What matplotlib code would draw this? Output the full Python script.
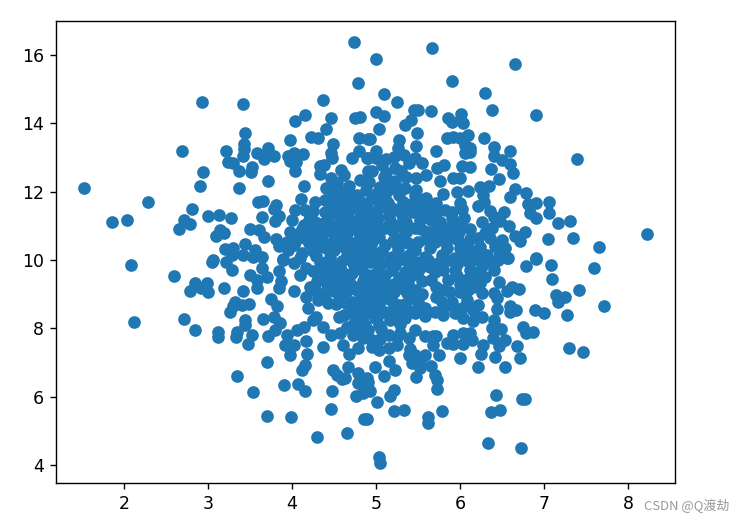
import matplotlib
matplotlib.use("Agg")
import matplotlib.pyplot as plt

# points, one list per quadrant of the cloud
upper_left = [
    (4.74, 16.38), (4.79, 15.18), (4.37, 14.68), (2.93, 14.62), (3.42, 14.56), (4.15, 14.25), (4.03, 14.06),
    (4.46, 14.15), (4.75, 14.15), (4.81, 14.19), (4.41, 13.84), (4.23, 13.61), (4.31, 13.58), (3.44, 13.71),
    (3.98, 13.51), (4.80, 13.56), (4.91, 13.55), (3.43, 13.39), (4.49, 13.40), (2.69, 13.18), (3.21, 13.18),
    (3.43, 13.25), (3.42, 13.04), (3.58, 13.14), (3.71, 13.29), (3.67, 12.96), (3.78, 13.06), (3.72, 13.13),
    (4.46, 13.13), (4.48, 13.00), (4.80, 13.18), (4.72, 12.98), (4.89, 12.98), (3.95, 13.06), (4.02, 13.13),
    (4.13, 13.10), (3.98, 12.90), (4.05, 12.88), (4.04, 12.61), (3.24, 12.86), (3.30, 12.83), (3.37, 12.61),
    (3.52, 12.72), (3.51, 12.57), (2.94, 12.57), (2.90, 12.16), (3.71, 12.32), (3.37, 12.10), (4.14, 12.16),
    (1.52, 12.10), (2.29, 11.69), (1.86, 11.10), (2.03, 11.16), (2.81, 11.50), (2.71, 11.18), (2.78, 11.05),
    (2.66, 10.90), (3.00, 11.28), (3.13, 11.31), (3.27, 11.22), (3.60, 11.69), (3.65, 11.73), (3.64, 11.26),
    (3.81, 11.60), (3.79, 11.49), (3.84, 11.30), (3.80, 11.15), (3.50, 10.90), (3.61, 10.88), (3.67, 10.67),
    (3.81, 10.61), (3.10, 10.70), (3.14, 10.88), (3.19, 10.80), (3.20, 10.32), (3.30, 10.36), (3.44, 10.47),
    (3.56, 10.30), (3.64, 10.10), (3.06, 10.00), (3.28, 10.15), (3.42, 10.15), (3.54, 10.10), (3.89, 10.02),
    (4.11, 11.79), (4.27, 11.69), (4.04, 11.47), (4.15, 11.47), (4.21, 11.30), (4.27, 11.12), (4.26, 10.98),
    (4.00, 11.17), (4.14, 11.03), (3.98, 10.83), (4.10, 10.78), (3.94, 10.54), (4.02, 10.44), (4.15, 10.64),
    (4.31, 10.59), (4.33, 12.74), (4.38, 12.78), (4.33, 12.52), (4.40, 12.12), (4.47, 12.39), (4.53, 12.25),
    (4.58, 12.64), (4.62, 12.49), (4.68, 12.16), (4.81, 12.33), (4.91, 12.62), (4.49, 11.95), (4.39, 11.76),
    (4.65, 11.91), (4.77, 11.91), (4.78, 11.81), (4.71, 11.66), (4.49, 11.61), (4.39, 11.42), (4.57, 11.52),
    (4.65, 11.32), (4.51, 11.03), (4.63, 11.08), (4.81, 11.42), (4.91, 11.22), (4.81, 11.03), (4.49, 10.78),
    (4.65, 10.83), (4.81, 10.73), (4.93, 10.83), (4.41, 10.34), (4.57, 10.54), (4.69, 10.34), (4.85, 10.44),
    (4.25, 10.25), (4.45, 10.10), (4.65, 10.15), (4.85, 10.10),
]
upper_right = [
    (5.67, 16.20), (5.00, 15.88), (6.66, 15.73), (5.91, 15.23), (5.10, 14.85), (6.30, 14.88), (5.25, 14.62),
    (6.38, 14.39), (6.90, 14.24), (5.00, 14.33), (5.10, 14.22), (5.45, 14.39), (5.50, 14.39), (5.65, 14.36),
    (5.86, 14.15), (6.01, 14.29), (5.90, 14.05), (6.03, 14.02), (5.42, 14.10), (5.34, 13.95), (5.04, 13.83),
    (5.49, 13.71), (4.93, 13.54), (5.27, 13.52), (5.84, 13.57), (5.92, 13.61), (6.00, 13.57), (6.10, 13.66),
    (6.29, 13.57), (5.48, 13.34), (6.40, 13.31), (5.72, 13.18), (6.59, 13.18), (6.06, 13.37), (6.12, 13.29),
    (6.06, 13.13), (6.12, 13.16), (6.40, 13.06), (6.50, 12.93), (6.60, 12.80), (6.63, 12.54), (6.37, 12.66),
    (6.47, 12.36), (7.39, 12.95), (5.26, 13.27), (5.00, 13.19), (4.91, 12.98), (5.00, 12.98), (5.21, 13.03),
    (5.33, 13.08), (5.39, 12.83), (5.46, 12.98), (5.55, 12.85), (5.07, 12.78), (4.95, 12.62), (5.23, 12.69),
    (5.73, 12.69), (5.81, 12.78), (6.02, 12.76), (6.12, 12.72), (5.92, 12.41), (6.00, 12.39), (5.76, 12.30),
    (5.48, 12.41), (5.60, 12.49), (5.09, 12.42), (5.23, 12.30), (5.05, 12.15), (5.35, 12.10), (5.48, 12.05),
    (6.24, 12.13), (6.34, 12.17), (6.27, 11.91), (6.66, 12.07), (6.60, 11.84), (6.79, 11.95), (6.09, 12.02),
    (5.96, 12.00), (5.80, 11.93), (5.60, 11.81), (6.81, 11.64), (6.91, 11.66), (7.06, 11.69), (7.06, 11.37),
    (6.83, 11.37), (6.90, 11.22), (7.17, 11.08), (7.31, 11.13), (6.22, 11.58), (6.28, 11.71), (6.00, 11.66),
    (6.02, 11.49), (6.36, 11.44), (6.52, 11.41), (6.40, 11.27), (6.48, 11.13), (6.58, 11.00), (6.26, 11.10),
    (6.38, 10.93), (5.90, 11.22), (5.82, 11.47), (5.68, 11.52), (5.58, 11.47), (5.66, 11.17), (6.77, 10.82),
    (6.65, 10.69), (6.71, 10.57), (7.05, 10.61), (7.35, 10.64), (7.66, 10.37), (8.23, 10.75), (5.99, 10.83),
    (6.22, 10.64), (6.24, 10.39), (6.42, 10.42), (6.54, 10.34), (6.08, 10.44), (6.56, 10.05), (6.90, 10.05),
    (6.46, 10.10), (6.32, 10.15), (4.95, 11.81), (5.11, 11.81), (5.27, 11.91), (5.46, 11.91), (4.99, 11.42),
    (5.15, 11.32), (5.31, 11.32), (5.44, 11.42), (5.60, 11.27), (4.93, 11.03), (5.11, 10.93), (5.27, 11.03),
    (5.46, 10.93), (5.62, 10.83), (5.78, 10.88), (5.88, 10.64), (4.95, 10.54), (5.11, 10.44), (5.31, 10.64),
    (5.50, 10.54), (5.70, 10.54), (6.00, 10.34), (4.99, 10.10), (5.19, 10.10), (5.39, 10.15), (5.58, 10.10),
    (5.78, 10.15), (5.94, 10.05), (6.14, 10.25),
]
lower_left = [
    (2.08, 9.85), (2.59, 9.52), (2.12, 8.18), (2.71, 8.27), (2.84, 7.94), (2.84, 9.32), (2.79, 9.09),
    (2.99, 9.32), (3.00, 9.05), (2.92, 9.17), (3.19, 9.17), (3.05, 9.93), (3.21, 9.93), (3.29, 9.70),
    (3.42, 9.09), (3.32, 8.78), (3.26, 8.49), (3.30, 8.64), (3.40, 8.69), (3.49, 8.70), (3.12, 7.88),
    (3.12, 7.74), (3.34, 7.88), (3.33, 7.74), (3.44, 8.25), (3.44, 8.10), (3.52, 7.81), (3.48, 7.53),
    (3.50, 9.56), (3.58, 9.42), (3.64, 9.76), (3.70, 9.51), (3.58, 9.17), (3.85, 9.69), (3.87, 9.39),
    (3.84, 9.17), (4.02, 9.09), (3.89, 10.00), (3.75, 8.86), (3.82, 8.64), (3.66, 8.27), (3.78, 8.34),
    (3.86, 8.15), (3.80, 7.95), (3.72, 7.78), (3.94, 7.81), (3.92, 7.51), (4.02, 7.51), (3.98, 7.22),
    (4.06, 7.95), (4.14, 8.05), (4.17, 7.63), (4.18, 7.24), (4.37, 7.45), (3.70, 7.00), (3.35, 6.59),
    (3.53, 6.13), (3.90, 6.33), (4.07, 6.38), (4.15, 6.16), (4.15, 6.93), (4.12, 6.77), (3.70, 5.42),
    (3.99, 5.40), (4.30, 4.81), (4.65, 4.93), (4.47, 5.63), (4.48, 6.16), (4.86, 5.34), (4.76, 6.01),
    (4.49, 6.78), (4.53, 6.64), (4.59, 6.51), (4.63, 6.54), (4.67, 6.86), (4.79, 6.68), (4.78, 6.39),
    (4.89, 6.54), (4.91, 6.25), (4.85, 6.10), (4.56, 8.32), (4.29, 8.34), (4.19, 8.59), (4.37, 8.05),
    (4.57, 7.86), (4.47, 7.81), (4.61, 7.51), (4.68, 7.24), (4.79, 7.42), (4.73, 7.81), (4.85, 7.71),
    (4.75, 8.20), (4.87, 8.10), (4.93, 8.49), (4.25, 8.25), (4.17, 8.93), (4.21, 9.22), (4.31, 8.83),
    (4.43, 8.73), (4.10, 9.56), (4.02, 9.90), (4.17, 9.76), (4.33, 9.95), (4.41, 9.56), (4.53, 9.86),
    (4.65, 9.56), (4.81, 9.76), (4.49, 9.17), (4.61, 9.27), (4.75, 9.22), (4.57, 8.88), (4.71, 8.78),
    (4.85, 8.88), (4.89, 9.37), (4.81, 8.54),
]
lower_right = [
    (7.59, 9.76), (7.08, 9.85), (6.91, 10.03), (6.79, 9.82), (7.09, 9.44), (7.42, 9.12), (7.72, 8.65),
    (7.14, 8.98), (7.17, 8.78), (7.25, 8.91), (7.28, 8.38), (6.89, 8.54), (7.00, 8.45), (7.30, 7.41),
    (7.47, 7.30), (6.75, 8.05), (6.79, 7.86), (6.87, 7.90), (6.68, 7.48), (6.72, 7.12), (6.53, 6.88),
    (6.21, 6.88), (6.00, 7.12), (6.42, 7.17), (6.25, 7.25), (6.27, 7.51), (6.46, 7.47), (6.54, 7.66),
    (6.39, 7.71), (6.49, 7.98), (6.38, 8.00), (6.40, 8.25), (6.44, 8.56), (6.44, 8.88), (6.60, 8.64),
    (6.60, 8.49), (6.67, 8.54), (6.70, 9.14), (6.62, 9.22), (6.56, 9.09), (6.46, 9.35), (6.30, 9.51),
    (6.24, 9.54), (6.18, 9.47), (6.24, 9.32), (6.45, 10.00), (6.57, 10.05), (6.22, 10.03), (6.43, 6.04),
    (6.74, 5.92), (6.78, 5.92), (6.37, 5.54), (6.48, 5.60), (6.33, 4.63), (6.73, 4.50), (5.79, 5.57),
    (5.62, 5.40), (5.62, 5.22), (5.33, 5.61), (5.22, 5.58), (5.01, 5.83), (5.21, 6.20), (5.17, 6.03),
    (4.89, 5.34), (5.03, 4.24), (5.05, 4.07), (5.73, 6.22), (5.73, 6.49), (5.70, 6.62), (5.48, 6.57),
    (4.93, 6.15), (4.91, 6.44), (5.23, 6.77), (5.10, 6.59), (4.99, 6.88), (5.15, 7.05), (5.39, 7.22),
    (5.46, 7.22), (5.58, 7.22), (5.75, 7.22), (5.43, 6.98), (5.52, 6.83), (5.65, 6.91), (5.52, 7.03),
    (5.58, 7.78), (5.68, 7.78), (5.72, 7.78), (5.68, 7.51), (5.84, 7.56), (5.92, 7.81), (6.04, 7.86),
    (6.14, 7.66), (6.04, 7.53), (5.92, 7.53), (6.12, 7.86), (5.03, 7.37), (5.15, 7.42), (5.25, 7.51),
    (5.39, 7.71), (5.46, 7.95), (5.29, 7.86), (5.15, 7.81), (4.95, 7.66), (4.91, 7.95), (4.99, 8.29),
    (5.17, 8.25), (5.35, 8.29), (5.46, 8.44), (5.58, 8.59), (5.70, 8.49), (5.82, 8.64), (5.94, 8.44),
    (6.04, 8.29), (6.16, 8.20), (6.16, 8.54), (6.26, 8.34), (6.22, 8.68), (6.02, 8.59), (5.72, 8.93),
    (5.72, 9.20), (5.88, 9.07), (5.86, 9.42), (6.06, 9.42), (6.10, 9.12), (6.26, 9.03), (6.40, 9.03),
    (5.90, 8.78), (5.78, 8.78), (4.95, 8.98), (5.11, 8.88), (5.27, 8.68), (5.43, 8.88), (5.46, 9.12),
    (5.31, 9.17), (5.15, 9.17), (4.99, 9.27), (4.95, 9.56), (5.11, 9.56), (5.27, 9.47), (5.43, 9.56),
    (5.54, 9.81), (5.70, 9.66), (5.39, 9.86), (5.23, 9.86), (5.07, 9.90), (4.93, 9.95), (5.62, 10.00),
    (5.86, 10.00), (6.06, 10.00), (4.95, 8.59), (5.11, 8.49), (5.29, 8.39),
]
# middle of the cloud, where the dots merge and can only be estimated
center = [
    (4.62, 11.72), (4.85, 11.68), (5.02, 11.74), (5.14, 11.66), (5.32, 11.70), (5.42, 11.63), (5.55, 11.68),
    (5.72, 11.66), (4.52, 11.38), (4.68, 11.46), (4.90, 11.50), (5.06, 11.55), (5.22, 11.50), (5.36, 11.48),
    (5.52, 11.42), (5.72, 11.38), (5.90, 11.40), (4.42, 11.18), (4.58, 11.22), (4.74, 11.14), (4.88, 11.20),
    (5.02, 11.22), (5.17, 11.15), (5.36, 11.12), (5.52, 11.18), (5.66, 11.30), (5.76, 11.12), (5.94, 11.05),
    (6.05, 11.22), (4.33, 10.82), (4.42, 10.92), (4.57, 10.88), (4.72, 10.92), (4.87, 10.85), (5.02, 10.92),
    (5.20, 10.85), (5.36, 10.82), (5.54, 10.90), (5.70, 10.86), (5.86, 10.95), (6.00, 11.00), (6.12, 10.90),
    (6.30, 10.80), (4.20, 10.50), (4.36, 10.62), (4.48, 10.50), (4.65, 10.62), (4.78, 10.55), (4.90, 10.62),
    (5.04, 10.68), (5.20, 10.56), (5.38, 10.50), (5.60, 10.62), (5.78, 10.58), (5.98, 10.60), (6.12, 10.62),
    (6.36, 10.65), (6.50, 10.60), (4.12, 10.22), (4.30, 10.35), (4.50, 10.28), (4.62, 10.38), (4.78, 10.22),
    (4.94, 10.32), (5.07, 10.25), (5.26, 10.32), (5.46, 10.28), (5.64, 10.34), (5.84, 10.36), (6.06, 10.20),
    (6.22, 10.30), (6.46, 10.30), (4.10, 10.05), (4.28, 10.12), (4.40, 9.92), (4.60, 9.98), (4.73, 9.92),
    (4.88, 10.02), (5.02, 10.00), (5.15, 9.96), (5.31, 10.02), (5.48, 9.95), (5.74, 9.92), (5.96, 9.88),
    (6.14, 10.00), (6.34, 9.95), (6.26, 9.82), (4.25, 9.68), (4.36, 9.72), (4.47, 9.62), (4.58, 9.72),
    (4.72, 9.62), (4.86, 9.62), (5.02, 9.68), (5.19, 9.70), (5.35, 9.66), (5.50, 9.68), (5.64, 9.80),
    (5.80, 9.72), (5.94, 9.70), (6.12, 9.72), (6.22, 9.65), (6.40, 9.72), (4.30, 9.40), (4.42, 9.30),
    (4.55, 9.42), (4.68, 9.38), (4.84, 9.40), (4.98, 9.45), (5.10, 9.35), (5.22, 9.30), (5.38, 9.35),
    (5.55, 9.38), (5.66, 9.42), (6.00, 9.30), (5.96, 9.52), (4.30, 9.05), (4.41, 9.02), (4.53, 9.04),
    (4.65, 9.08), (4.79, 9.10), (4.92, 9.12), (5.06, 9.02), (5.21, 9.05), (5.37, 9.03), (5.55, 9.00),
    (5.80, 9.12), (6.00, 9.05), (6.16, 9.20), (4.52, 8.72), (4.64, 8.75), (4.78, 8.78), (4.92, 8.72),
    (5.03, 8.70), (5.19, 8.80), (5.35, 8.72), (5.50, 8.78), (6.08, 8.82), (4.62, 8.38), (4.72, 8.48),
    (4.84, 8.36), (5.04, 8.42), (5.20, 8.55), (5.40, 8.50), (5.58, 8.35), (5.80, 8.40), (4.66, 8.05),
    (4.80, 8.00), (5.04, 8.10), (5.28, 8.12), (5.06, 7.98), (5.12, 12.55), (5.22, 12.15), (5.36, 12.42),
    (5.12, 12.95), (5.16, 12.25), (5.30, 12.60), (4.92, 12.28), (4.88, 12.05), (5.02, 11.98), (5.14, 12.05),
    (4.62, 12.00), (4.55, 11.85), (4.25, 11.45), (4.12, 10.90), (4.22, 10.75), (4.33, 11.05), (4.20, 11.18),
    (3.85, 10.42), (4.05, 10.60), (3.95, 10.30), (5.05, 7.70), (5.25, 7.75), (4.95, 7.45), (5.40, 7.40),
]

points = upper_left + upper_right + lower_left + lower_right + center
x_vals = [p[0] for p in points]
y_vals = [p[1] for p in points]

fig = plt.figure(figsize=(7.43, 5.22), dpi=100)
ax = fig.add_axes([56 / 743, 1 - 483 / 522, 619 / 743, 462 / 522])
ax.scatter(x_vals, y_vals, s=58, linewidths=1.5)

ax.set_xlim(1.19, 8.56)
ax.set_ylim(3.47, 17.0)
ax.set_xticks([2, 3, 4, 5, 6, 7, 8])
ax.set_yticks([4, 6, 8, 10, 12, 14, 16])
ax.tick_params(labelsize=12.5, length=4.5, width=1, pad=4)
for s in ax.spines.values():
    s.set_linewidth(1)

# watermark in the lower right corner
fig.text(729 / 743, 1 - 506 / 522, "CSDN @Q渡劫", ha="right", va="center", fontsize=9.4,
         color="#999999", family=["Noto Sans CJK SC", "DejaVu Sans"])

plt.savefig("out.png", dpi=100)
